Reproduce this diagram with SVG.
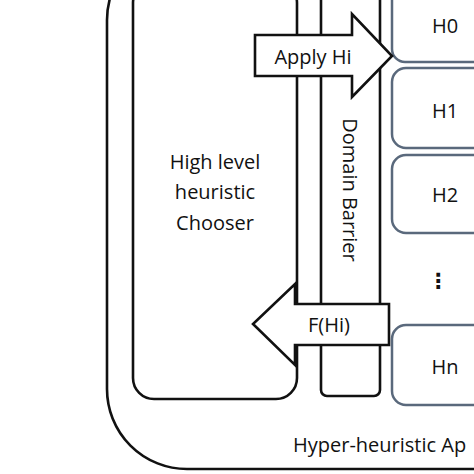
<svg xmlns="http://www.w3.org/2000/svg" width="474" height="474" viewBox="0 0 474 474">
<style>
.k{fill:none;stroke:#111;stroke-width:2.6}
.h{fill:#fff;stroke:#5a697c;stroke-width:2.5}
.a{fill:#fff;stroke:#111;stroke-width:2.6;stroke-linejoin:miter}
text{font-family:"Open Sans","Liberation Sans",sans-serif;font-size:20px;fill:#111;text-anchor:middle}
</style>
<rect width="474" height="474" fill="#fff"/>
<g id="hyper-heuristic">
<rect class="k" x="107" y="-60" width="480" height="529" rx="80"/>
<text x="293" y="452" style="text-anchor:start">Hyper-heuristic Ap</text>
</g>
<g id="chooser">
<rect class="k" x="133" y="-18" width="164" height="417" rx="21"/>
<text x="215" y="169">High level</text>
<text x="215" y="199">heuristic</text>
<text x="215" y="230">Chooser</text>
</g>
<g id="domain-barrier">
<rect class="k" x="321" y="-20" width="59" height="416" rx="6"/>
<text x="343" y="190" transform="rotate(90 343 190)">Domain Barrier</text>
</g>
<g id="H0"><rect class="h" x="392" y="-30" width="110" height="92" rx="13"/><text x="445" y="33">H0</text></g>
<g id="H1"><rect class="h" x="392" y="68" width="110" height="80" rx="14"/><text x="445" y="118">H1</text></g>
<g id="H2"><rect class="h" x="392" y="155" width="110" height="78" rx="14"/><text x="445" y="202">H2</text></g>
<g id="dots"><text x="438" y="288" style="font-family:'DejaVu Sans',sans-serif;font-size:21px;font-weight:bold">⋮</text></g>
<g id="Hn"><rect class="h" x="392" y="325" width="110" height="80" rx="14"/><text x="445" y="374">Hn</text></g>
<g id="connectors">
<g id="apply">
<polygon class="a" points="255,35 352,35 352,14 392,56 352,97 352,76 255,76"/>
<text x="313" y="64">Apply Hi</text>
</g>
<g id="fhi">
<polygon class="a" points="389,304 295,304 295,284 253,324 295,365 295,345 389,345"/>
<text x="329" y="332">F(Hi)</text>
</g>
</g>
</svg>
